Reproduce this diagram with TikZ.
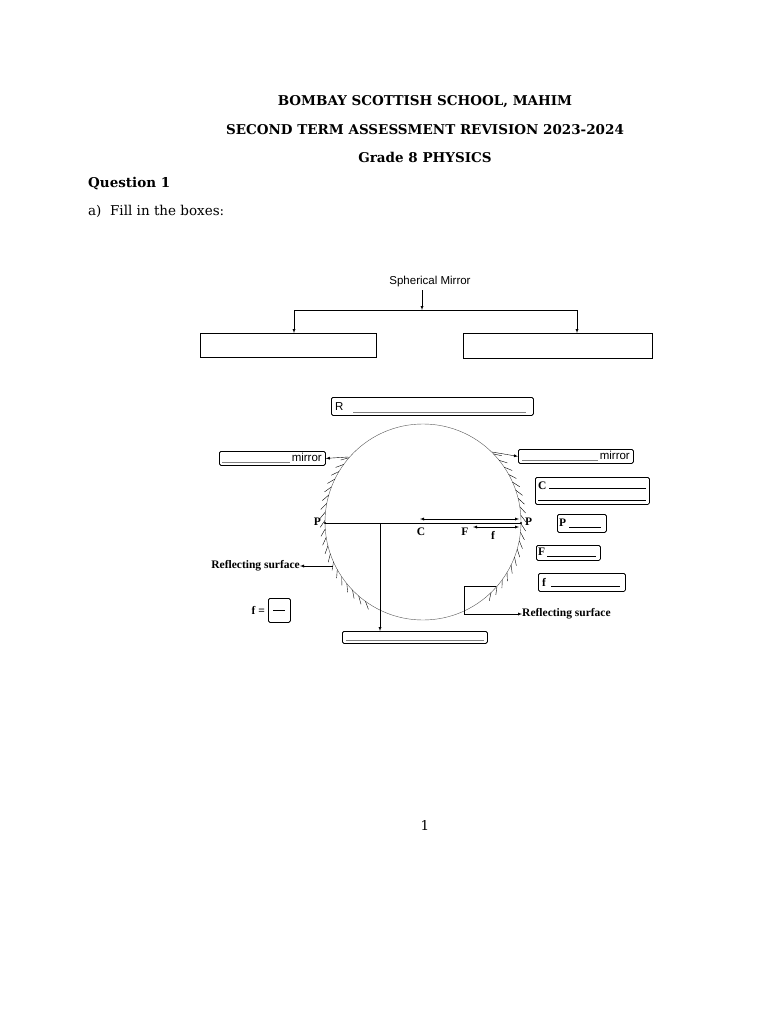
\documentclass[tikz,border=0pt]{standalone}
\usepackage{fontspec}
\usetikzlibrary{calc}
\setmainfont{Liberation Serif}
\newfontfamily\sansf{Liberation Sans}
\newfontfamily\titlef{DejaVu Serif}
\begin{document}
\begin{tikzpicture}[x=1pt,y=-1pt,
  box/.style={draw,thick,rounded corners=1.5pt,inner sep=0pt,anchor=north west},
  sq/.style={draw,thin,inner sep=0pt,anchor=north west},
  arr/.style={-latex,thin},
  lab/.style={font=\bfseries\fontsize{11.5}{13}\selectfont,inner sep=0pt},
  sl/.style={font=\sansf\fontsize{11.5}{13}\selectfont,inner sep=0pt},
  ttl/.style={font=\titlef\bfseries\fontsize{13.5}{16}\selectfont,inner sep=0pt}]
\useasboundingbox (0,0) rectangle (768,1024);
\node[ttl] (t1) at (425,102) {BOMBAY SCOTTISH SCHOOL, MAHIM};
\node[ttl] (t2) at (425,130) {SECOND TERM ASSESSMENT REVISION 2023-2024};
\node[ttl] (t3) at (425,157) {Grade 8 PHYSICS};
\node[ttl,anchor=west] (q) at (88,184) {Question 1};
\node[font=\titlef\fontsize{13.5}{16}\selectfont,anchor=west,inner sep=0pt] (qa) at (88,211) {a)\ \ Fill in the boxes:};
\node[font=\titlef\fontsize{13.5}{16}\selectfont] (pg) at (425,825) {1};
% flowchart
\node[sl,inner sep=1pt] (sm) at (430,282) {Spherical Mirror};
\node[sq,minimum width=176pt,minimum height=24pt] (b1) at (200,333) {};
\node[sq,minimum width=189pt,minimum height=25pt] (b2) at (463,333) {};
\coordinate (j) at (422,310);
\draw[arr] (422,290) -- (j);
\draw (294,310) -- (577,310);
\draw[arr] (294,310) -- (b1.north -| 294,0);
\draw[arr] (577,310) -- (b2.north -| 577,0);
% circle
\coordinate (O) at (423,522);
\draw[thin,gray!70!black] (O) circle (98);
\foreach \a in {126,131,...,221} \draw[thin] ($(O)+(\a:98)$) -- ($(O)+(\a-4:103)$);
\foreach \a in {-44,-39,...,50} \draw[thin] ($(O)+(\a:98)$) -- ($(O)+(\a+4:103)$);
\coordinate (PL) at (325,523);
\coordinate (PR) at (521,523);
\draw (PL) -- (PR);
\fill (PL) circle (1.2); \fill (PR) circle (1.2);
\node[lab,anchor=east] (pl) at (321,522) {P};
\node[lab,anchor=west] (pr) at (525,522) {P};
\coordinate (C) at (423,523);
\coordinate (F) at (472,527);
\draw[latex-latex,thin] (420,519) -- (519,519);
\draw[latex-latex,thin] (473,527) -- (519,527);
\node[lab] (cl) at (421,532) {C};
\node[lab] (fl) at (465,532) {F};
\node[lab] (fs) at (493,535) {f};
% boxes
\node[box,minimum width=202pt,minimum height=18pt] (R) at (331,397) {};
\node[sl,anchor=west] (Rl) at (335,407) {R};
\draw[thick,gray] (353,412) -- (526,412);
\node[box,minimum width=106pt,minimum height=14pt] (ml) at (219,451) {};
\draw[thick,gray] (222,462) -- (290,462);
\node[sl,anchor=east] (mlt) at (322,457) {mirror};
\node[box,minimum width=115pt,minimum height=14pt] (mr) at (518,449) {};
\draw[thick,gray] (522,460) -- (598,460);
\node[sl,anchor=east] (mrt) at (630,455) {mirror};
\draw[arr] (348,457) -- (ml.east);
\draw[arr] (492,452) -- (mr.west);
\node[box,minimum width=114pt,minimum height=27pt] (Cb) at (535,477) {};
\node[lab,anchor=west] (Cbl) at (538,486) {C};
\draw[thin] (549,488) -- (646,488); \draw[thin] (538,500) -- (646,500);
\node[box,minimum width=49pt,minimum height=18pt] (Pb) at (557,514) {};
\node[lab,anchor=west] (Pbl) at (559,523) {P};
\draw[thin] (569,527) -- (601,527);
\node[box,minimum width=64pt,minimum height=15pt] (Fb) at (536,545) {};
\node[lab,anchor=west] (Fbl) at (538,552) {F};
\draw[thin] (547,556) -- (596,556);
\node[box,minimum width=87pt,minimum height=18pt] (fb) at (538,573) {};
\node[lab,anchor=west] (fbl) at (542,582) {f};
\draw[thin] (551,586) -- (620,586);
\node[lab,anchor=east] (rsl) at (300,566) {Reflecting surface};
\draw[arr] (333,566) -- (rsl.east);
\node[lab,anchor=west] (rsr) at (522,614) {Reflecting surface};
\draw[arr] (496,586) -- (464,586) -- (464,614) -- (rsr.west);
\node[box,minimum width=22pt,minimum height=24pt] (fe) at (268,598) {};
\draw[thin] (273,610) -- (285,610);
\node[lab,anchor=east] (fel) at (265,610) {f =};
\node[box,minimum width=145pt,minimum height=12pt] (bot) at (342,631) {};
\draw[thick,gray] (346,640) -- (484,640);
\draw[arr] (380,523) -- (bot.north -| 380,0);
\end{tikzpicture}
\end{document}
